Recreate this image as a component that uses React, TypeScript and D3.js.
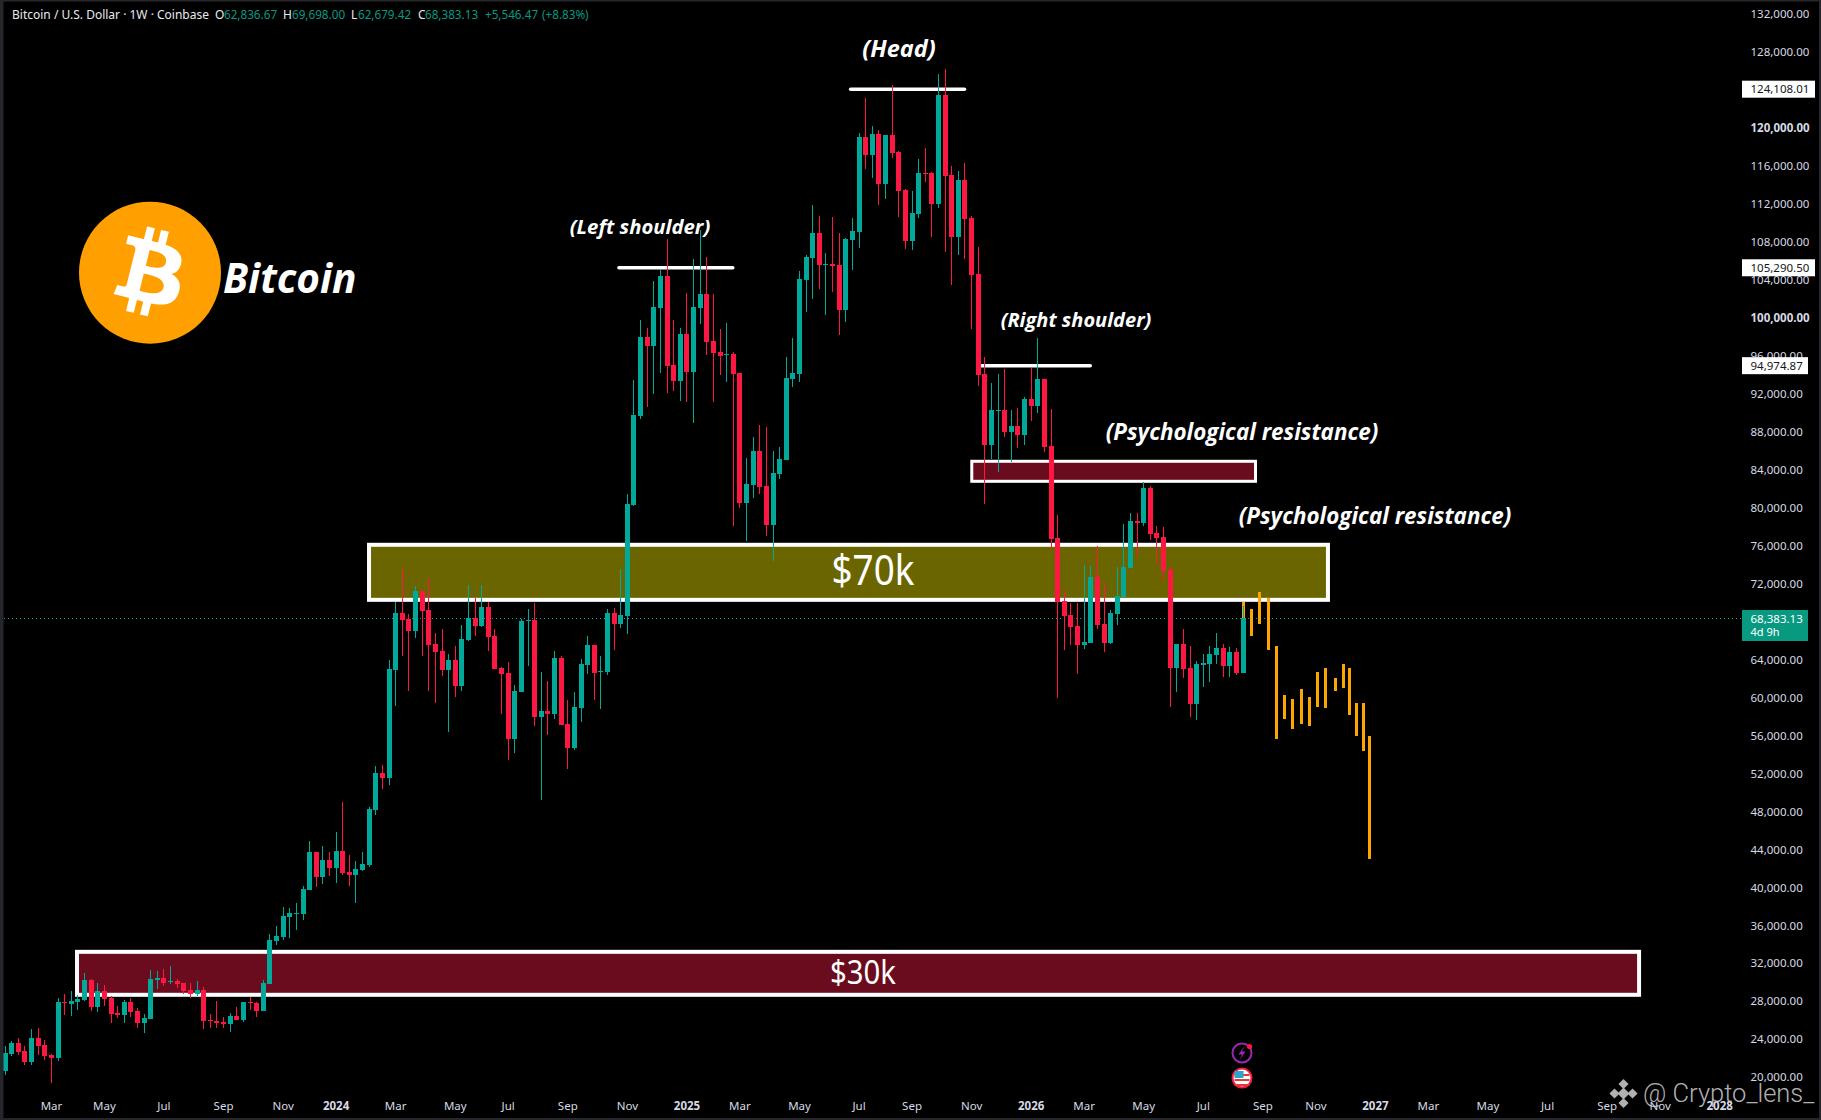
import * as d3 from 'd3';
import { useRef, useEffect } from 'react';

const WIDTH = 1821;
const HEIGHT = 1120;

// Weekly candles, prices in thousands of USD, one entry per week
const opens = [
  20.62, 22.41, 23.57, 22.73, 21.57, 24.1, 23.36, 22.3, 21.99, 27.89, 27.68, 27.89, 28.1, 30.21, 27.36, 29.05,
  28.31, 26.73, 26.52, 27.89, 26.94, 25.68, 26.1, 30.21, 30.42, 30.0, 30.1, 29.89, 29.15, 28.73, 29.15, 26.0,
  25.89, 25.78, 25.57, 26.41, 26.0, 27.89, 27.78, 26.94, 29.79, 34.32, 34.74, 36.85, 37.17, 37.17, 39.69, 43.7,
  41.06, 42.86, 42.01, 43.8, 41.59, 41.27, 41.8, 42.33, 48.12, 52.02, 51.49, 62.87, 68.88, 68.25, 66.98, 71.2,
  69.2, 65.61, 64.88, 62.87, 63.93, 61.19, 66.04, 68.35, 67.51, 69.51, 66.46, 63.08, 62.56, 55.6, 60.56, 68.04,
  68.14, 57.92, 58.55, 58.24, 64.14, 57.18, 54.65, 58.87, 63.4, 65.51, 62.66, 62.66, 68.88, 67.72, 68.56, 80.26,
  89.64, 97.96, 97.02, 101.02, 104.39, 95.01, 93.33, 98.28, 94.28, 101.02, 102.49, 97.54, 96.38, 96.07, 96.17, 94.17,
  80.47, 82.37, 85.95, 82.26, 78.15, 83.53, 85.0, 93.54, 94.07, 103.97, 106.29, 108.92, 105.55, 105.66, 105.55, 100.81,
  108.18, 109.08, 119.09, 117.19, 119.4, 114.13, 119.3, 117.51, 113.5, 108.13, 110.97, 115.29, 115.29, 112.03, 123.51, 115.08,
  108.55, 114.55, 110.5, 104.6, 94.06, 86.58, 90.16, 90.27, 87.95, 88.58, 87.63, 91.43, 90.69, 93.54, 86.47, 76.79,
  70.15, 68.67, 67.51, 65.51, 65.72, 72.68, 67.72, 65.72, 68.78, 70.57, 73.63, 78.58, 78.37, 82.06, 77.31, 76.89,
  73.41, 63.09, 65.62, 63.09, 59.29, 63.4, 63.51, 64.46, 65.2, 63.3, 64.77, 62.6,
];
const highs = [
  23.25, 23.78, 24.1, 23.25, 25.05, 25.15, 23.89, 22.41, 28.31, 28.73, 29.05, 28.63, 30.95, 30.31, 29.89, 29.68,
  28.52, 27.47, 28.1, 28.31, 27.26, 26.63, 31.26, 31.16, 31.37, 31.68, 30.31, 29.89, 29.89, 30.1, 29.47, 26.63,
  28.0, 26.31, 26.73, 27.36, 27.89, 28.42, 27.89, 30.21, 35.05, 35.9, 37.9, 37.8, 38.32, 40.12, 44.86, 43.7,
  44.33, 43.7, 45.81, 48.97, 43.38, 42.75, 43.7, 48.44, 52.76, 52.87, 63.93, 70.04, 73.69, 68.77, 71.73, 71.2,
  72.64, 66.77, 67.19, 64.56, 65.4, 67.62, 71.83, 70.46, 71.83, 70.04, 67.19, 63.19, 63.72, 61.29, 68.25, 69.3,
  69.93, 62.66, 61.72, 64.88, 64.35, 59.71, 60.56, 64.03, 66.46, 65.51, 64.35, 69.3, 69.41, 73.52, 81.42, 93.43,
  99.76, 98.91, 103.86, 105.02, 108.29, 99.76, 98.91, 102.6, 106.18, 109.24, 106.39, 102.49, 98.81, 99.44, 96.38, 94.17,
  85.21, 87.43, 88.69, 88.48, 85.95, 86.37, 95.86, 97.86, 104.92, 106.6, 111.87, 110.71, 106.82, 110.61, 108.92, 108.4,
  110.5, 119.51, 123.2, 120.25, 119.82, 119.3, 124.57, 117.61, 113.61, 113.4, 116.77, 117.93, 115.4, 125.72, 126.25, 116.03,
  115.5, 116.3, 110.7, 107.45, 95.85, 93.11, 94.06, 94.59, 90.27, 90.48, 91.64, 94.69, 97.86, 93.54, 90.37, 79.21,
  71.31, 69.94, 69.94, 73.94, 73.84, 75.94, 71.94, 69.2, 73.73, 78.26, 79.42, 79.42, 82.69, 82.27, 78.05, 77.95,
  73.84, 65.62, 67.2, 65.41, 63.82, 64.56, 65.41, 66.78, 65.62, 65.3, 65.2, 69.7,
];
const lows = [
  20.2, 22.2, 22.3, 21.25, 21.25, 22.3, 21.78, 19.35, 21.67, 26.52, 26.41, 27.05, 28.0, 26.94, 26.84, 27.47,
  25.68, 26.2, 25.68, 26.31, 25.15, 24.62, 26.1, 29.26, 29.58, 29.79, 29.36, 28.73, 28.31, 28.52, 25.05, 25.15,
  25.15, 25.15, 24.73, 26.0, 25.78, 27.05, 26.31, 26.94, 29.79, 33.9, 34.43, 34.64, 35.48, 36.53, 39.69, 40.01,
  40.33, 41.17, 40.43, 41.27, 40.12, 38.32, 41.7, 42.12, 47.6, 50.34, 50.76, 59.08, 64.35, 60.66, 66.25, 64.35,
  60.66, 59.4, 62.24, 56.34, 60.03, 60.66, 65.93, 66.46, 67.41, 64.88, 62.98, 58.24, 53.39, 54.13, 60.56, 63.3,
  56.97, 49.2, 56.02, 57.71, 57.08, 52.44, 54.44, 57.39, 62.45, 59.71, 58.76, 62.35, 64.98, 67.3, 66.67, 80.16,
  89.32, 90.59, 91.96, 94.17, 92.06, 92.27, 91.22, 91.11, 88.9, 99.33, 96.07, 91.11, 93.96, 93.22, 78.05, 79.95,
  76.47, 81.0, 81.42, 77.0, 74.36, 83.0, 85.0, 92.7, 93.22, 100.6, 101.97, 103.02, 100.28, 102.71, 98.17, 99.54,
  105.02, 107.39, 115.71, 114.77, 111.92, 112.55, 116.87, 110.66, 107.28, 107.18, 110.55, 114.34, 108.55, 111.6, 106.97, 103.44,
  106.65, 106.18, 98.8, 92.8, 80.37, 85.1, 83.74, 87.42, 84.79, 86.26, 86.58, 89.11, 89.95, 85.84, 75.63, 59.93,
  64.98, 65.51, 62.46, 65.09, 65.72, 67.2, 64.77, 65.62, 67.62, 70.57, 73.63, 74.79, 78.05, 76.58, 74.05, 72.26,
  58.98, 60.56, 62.03, 57.92, 57.61, 61.09, 61.61, 63.51, 62.14, 62.14, 62.35, 62.6,
];
const closes = [
  22.52, 23.57, 22.62, 21.57, 24.1, 23.25, 22.2, 21.99, 27.89, 27.78, 28.0, 28.2, 30.21, 27.36, 29.05, 28.2,
  26.63, 26.52, 27.89, 26.84, 25.68, 26.2, 30.31, 30.42, 29.89, 30.1, 29.79, 29.05, 28.73, 29.15, 25.89, 25.89,
  25.68, 25.57, 26.41, 26.0, 27.89, 27.78, 26.94, 29.89, 34.42, 34.85, 36.95, 37.27, 37.27, 39.8, 43.7, 41.06,
  42.86, 42.01, 43.8, 41.49, 41.27, 41.91, 42.43, 48.23, 52.02, 51.5, 62.98, 68.88, 68.14, 66.98, 71.2, 69.09,
  65.51, 64.77, 62.87, 63.93, 61.19, 66.14, 68.35, 67.51, 69.51, 66.35, 62.98, 62.45, 55.6, 60.66, 68.04, 68.14,
  57.92, 58.55, 58.24, 64.14, 57.08, 54.65, 58.98, 63.51, 65.51, 62.56, 62.77, 68.88, 67.72, 68.67, 80.37, 89.74,
  97.96, 97.02, 101.12, 104.39, 94.91, 93.33, 98.28, 94.28, 101.12, 102.49, 97.44, 96.28, 95.96, 96.17, 94.07, 80.47,
  82.47, 85.95, 82.16, 78.15, 83.63, 85.11, 93.64, 94.17, 104.08, 106.39, 108.92, 105.55, 105.66, 105.45, 100.81, 108.29,
  109.13, 119.09, 117.19, 119.4, 114.13, 119.3, 117.4, 113.4, 108.13, 111.08, 115.29, 115.19, 112.03, 123.51, 114.98, 108.55,
  114.55, 110.4, 104.5, 93.96, 86.58, 90.27, 90.27, 87.95, 88.58, 87.63, 91.43, 90.69, 93.54, 86.37, 76.68, 70.04,
  68.57, 67.41, 65.51, 65.83, 72.68, 67.62, 65.72, 68.88, 70.68, 73.73, 78.58, 78.37, 82.06, 77.21, 76.79, 73.31,
  63.09, 65.62, 62.98, 59.29, 63.51, 63.62, 64.56, 65.2, 63.3, 64.77, 62.56, 68.38,
];

// Orange projected bars (no wicks), own week spacing
const projWeeks = [187.1, 188.3, 189.5, 190.9, 192.1, 193.3, 194.5, 195.9, 197.1, 198.3, 199.5, 200.9, 202.1, 203.1, 204.1, 205.2, 206.1];
const projTops = [70.1, 69.36, 71.15, 70.52, 65.46, 60.3, 59.88, 60.93, 60.09, 62.72, 63.14, 62.09, 63.56, 63.14, 59.45, 59.45, 55.98];
const projBottoms = [68.3, 66.51, 67.78, 65.04, 55.66, 57.77, 56.71, 57.24, 57.03, 59.03, 58.93, 60.72, 61.03, 58.19, 55.98, 54.4, 43.02];

const priceTicks = d3.range(20, 133, 4);
const boldPrices = [100, 120];
const tickWeeks = [7, 15, 24, 33, 42, 50, 59, 68, 76, 85, 94, 103, 111, 120, 129, 137, 146, 155, 163, 172, 181, 190, 198, 207, 215, 224, 233, 242, 250, 259];
const tickLabels = ['Mar', 'May', 'Jul', 'Sep', 'Nov', '2024', 'Mar', 'May', 'Jul', 'Sep', 'Nov', '2025', 'Mar', 'May', 'Jul', 'Sep', 'Nov', '2026', 'Mar', 'May', 'Jul', 'Sep', 'Nov', '2027', 'Mar', 'May', 'Jul', 'Sep', 'Nov', '2028'];

// Zones: [from week, to week], [low price, high price]
const zone70Weeks = [55.05, 199.9];
const zone70Prices = [70.3, 76.1];
const zone30Weeks = [10.94, 246.9];
const zone30Prices = [28.68, 33.21];
const zone84Weeks = [146.1, 188.96];
const zone84Prices = [82.79, 84.9];

// Pattern levels
const levelPrices = [105.2905, 124.10801, 94.97487];
const levelFrom = [92.8, 127.8, 147.4];
const levelTo = [110.0, 145.0, 164.0];
const levelText = ['105,290.50', '124,108.01', '94,974.87'];
const levelBoxWidth = [73, 73, 66];

const lastPrice = 68.38313;

const notes = ['(Head)', '(Left shoulder)', '(Right shoulder)', '(Psychological resistance)', '(Psychological resistance)'];
const noteX = [899, 640, 1076, 1242, 1375];
const noteY = [48, 226, 319, 431, 515];
const noteSize = [23.5, 20.3, 20, 22.4, 22.4];

const headerLabels = ['Bitcoin / U.S. Dollar · 1W · Coinbase', 'O', 'H', 'L', 'C'];
const headerLabelX = [12, 215, 283, 351, 418];
const headerValues = ['62,836.67', '69,698.00', '62,679.42', '68,383.13', '+5,546.47', '(+8.83%)'];
const headerValueX = [224, 292, 358, 425, 485, 542];

const TEAL = '#00A99A';
const RED = '#FF1744';
const ORANGE = '#FFA500';
const AXIS_TEXT = '#D6DAE4';
const UI_FONT = 'Tahoma, "Noto Sans", "Liberation Sans", sans-serif';
const NOTE_FONT = '"Open Sans", "Noto Sans", sans-serif';

const BTC_PATH =
  'M2947.77 1754.38c40.72,-272.26 -166.56,-418.61 -450,-516.24l91.95 -368.8 -224.5 -55.94 -89.51 359.09c-59.02,-14.72 -119.63,-28.59 -179.87,-42.34l90.16 -361.46 -224.36 -55.94 -92 368.68c-48.84,-11.12 -96.81,-22.11 -143.35,-33.69l0.26 -1.16 -309.59 -77.31 -59.72 239.78c0,0 166.56,38.18 163.05,40.53 90.91,22.69 107.35,82.87 104.62,130.57l-104.74 420.15c6.26,1.59 14.38,3.89 23.34,7.49 -7.49,-1.86 -15.46,-3.89 -23.73,-5.87l-146.81 588.57c-11.11,27.62 -39.31,69.07 -102.87,53.33 2.25,3.26 -163.17,-40.72 -163.17,-40.72l-111.46 256.98 292.15 72.83c54.35,13.63 107.61,27.89 160.06,41.3l-92.9 373.03 224.24 55.94 92 -369.07c61.26,16.63 120.71,31.97 178.91,46.43l-91.69 367.33 224.51 55.94 92.89 -372.33c382.82,72.45 670.67,43.24 791.83,-303.02 97.63,-278.78 -4.86,-439.58 -206.26,-544.44 146.69,-33.83 257.18,-130.31 286.64,-329.61l-0.07 -0.05zm-512.93 719.26c-69.38,278.78 -538.76,128.08 -690.94,90.29l123.28 -494.2c152.17,37.99 640.17,113.17 567.66,403.91zm69.43 -723.3c-63.29,253.58 -453.96,124.75 -580.69,93.16l111.77 -448.21c126.73,31.59 534.85,90.55 468.92,355.05z';

export default function App() {
  const svgRef = useRef<SVGSVGElement | null>(null);

  useEffect(() => {
    document.body.style.margin = '0';
    document.body.style.background = '#000';

    const svg = d3.select(svgRef.current);
    svg.selectAll('*').remove();

    const x = d3.scaleLinear().domain([0, 259]).range([4.6, 4.6 + 6.62 * 259]);
    const y = d3.scaleLinear().domain([20, 132]).range([14.3 + 112 * 9.49, 14.3]);

    svg.append('rect').attr('width', WIDTH).attr('height', HEIGHT).attr('fill', '#000');

    /* -- Zonas ------------------------------------------------------------------------- */
    const addZone = (weeks: number[], prices: number[], fill: string, sw: number) => {
      svg
        .append('rect')
        .attr('x', x(weeks[0]))
        .attr('y', y(prices[1]))
        .attr('width', x(weeks[1]) - x(weeks[0]))
        .attr('height', y(prices[0]) - y(prices[1]))
        .attr('fill', fill)
        .attr('stroke', '#fff')
        .attr('stroke-width', sw);
    };
    addZone(zone70Weeks, zone70Prices, '#6B6500', 4);
    addZone(zone30Weeks, zone30Prices, '#6A0B1E', 4);
    addZone(zone84Weeks, zone84Prices, '#6A0B1E', 3);

    // Líneas del patrón
    levelPrices.forEach((p, i) => {
      svg
        .append('line')
        .attr('x1', x(levelFrom[i]))
        .attr('x2', x(levelTo[i]))
        .attr('y1', y(p))
        .attr('y2', y(p))
        .attr('stroke', '#fff')
        .attr('stroke-width', 3.5)
        .attr('stroke-linecap', 'round');
    });

    // Precio actual
    svg
      .append('line')
      .attr('x1', 4)
      .attr('x2', 1742)
      .attr('y1', Math.round(y(lastPrice)) + 0.5)
      .attr('y2', Math.round(y(lastPrice)) + 0.5)
      .attr('stroke', TEAL)
      .attr('stroke-dasharray', '1 3');

    /* -- Barras proyectadas ------------------------------------------------------------ */
    svg
      .append('g')
      .attr('shape-rendering', 'crispEdges')
      .selectAll('rect')
      .data(projWeeks)
      .join('rect')
      .attr('x', (d) => Math.round(x(d)) - 1)
      .attr('y', (_, i) => y(projTops[i]))
      .attr('width', 3)
      .attr('height', (_, i) => y(projBottoms[i]) - y(projTops[i]))
      .attr('fill', ORANGE);

    /* -- Velas ------------------------------------------------------------------------- */
    const candles = svg.append('g').attr('shape-rendering', 'crispEdges');
    opens.forEach((o, i) => {
      const c = closes[i];
      const color = c >= o ? TEAL : RED;
      const cx = Math.round(x(i));
      const top = Math.round(y(Math.max(o, c)));
      const bottom = Math.round(y(Math.min(o, c)));
      candles
        .append('rect')
        .attr('x', cx)
        .attr('y', Math.round(y(highs[i])))
        .attr('width', 1)
        .attr('height', Math.max(1, Math.round(y(lows[i])) - Math.round(y(highs[i]))))
        .attr('fill', color);
      candles
        .append('rect')
        .attr('x', cx - 2)
        .attr('y', top)
        .attr('width', 5)
        .attr('height', Math.max(1, bottom - top))
        .attr('fill', color);
    });

    /* -- Textos de zonas y notas ------------------------------------------------------- */
    svg
      .append('text')
      .attr('x', 873)
      .attr('y', 585)
      .attr('text-anchor', 'middle')
      .attr('font-family', '"Noto Sans", sans-serif')
      .attr('font-size', 41)
      .attr('textLength', 83)
      .attr('lengthAdjust', 'spacingAndGlyphs')
      .attr('fill', '#fff')
      .text('$70k');
    svg
      .append('text')
      .attr('x', 863)
      .attr('y', 984)
      .attr('text-anchor', 'middle')
      .attr('font-family', '"Noto Sans", sans-serif')
      .attr('font-size', 33)
      .attr('textLength', 66)
      .attr('lengthAdjust', 'spacingAndGlyphs')
      .attr('fill', '#fff')
      .text('$30k');

    notes.forEach((note, i) => {
      svg
        .append('text')
        .attr('x', noteX[i])
        .attr('y', noteY[i])
        .attr('text-anchor', 'middle')
        .attr('dominant-baseline', 'central')
        .attr('font-family', NOTE_FONT)
        .attr('font-size', noteSize[i])
        .attr('font-weight', 700)
        .attr('font-style', 'italic')
        .attr('fill', '#fff')
        .text(note);
    });

    /* -- Logo -------------------------------------------------------------------------- */
    svg.append('circle').attr('cx', 150).attr('cy', 272.7).attr('r', 71).attr('fill', '#FFA000');
    svg
      .append('path')
      .attr('d', BTC_PATH)
      .attr('fill', '#fff')
      .attr('transform', `translate(150,272.7) scale(${142 / 4091}) translate(-2045.6,-2045.9)`);
    svg
      .append('text')
      .attr('x', 223)
      .attr('y', 293)
      .attr('font-family', NOTE_FONT)
      .attr('font-size', 40.5)
      .attr('font-weight', 700)
      .attr('font-style', 'italic')
      .attr('fill', '#fff')
      .text('Bitcoin');

    /* -- Cabecera ---------------------------------------------------------------------- */
    headerLabels.forEach((t, i) => {
      svg
        .append('text')
        .attr('x', headerLabelX[i])
        .attr('y', 19)
        .attr('font-family', UI_FONT)
        .attr('font-size', 12)
        .attr('fill', '#E8EAF0')
        .text(t);
    });
    headerValues.forEach((t, i) => {
      svg
        .append('text')
        .attr('x', headerValueX[i])
        .attr('y', 19)
        .attr('font-family', UI_FONT)
        .attr('font-size', 11.7)
        .attr('fill', '#089981')
        .text(t);
    });

    /* -- Ejes -------------------------------------------------------------------------- */
    const yAxis = svg
      .append('g')
      .attr('transform', 'translate(1750.5,0)')
      .call(
        d3
          .axisRight(y)
          .tickValues(priceTicks)
          .tickSize(0)
          .tickPadding(0)
          .tickFormat((d) => d3.format(',.2f')(+d * 1000)),
      );
    yAxis.select('.domain').remove();
    yAxis
      .selectAll<SVGTextElement, number>('text')
      .attr('font-family', UI_FONT)
      .attr('font-size', 11.5)
      .attr('font-weight', (d) => (boldPrices.includes(d) ? 700 : 400))
      .attr('fill', AXIS_TEXT);

    const xAxis = svg
      .append('g')
      .attr('transform', 'translate(0,1101.5)')
      .call(
        d3
          .axisBottom(x)
          .tickValues(tickWeeks)
          .tickSize(0)
          .tickPadding(0)
          .tickFormat((_, i) => tickLabels[i]),
      );
    xAxis.select('.domain').remove();
    xAxis
      .selectAll<SVGTextElement, number>('text')
      .attr('font-family', UI_FONT)
      .attr('font-size', 11.5)
      .attr('font-weight', (_, i) => (/^20/.test(tickLabels[i]) ? 700 : 400))
      .attr('fill', AXIS_TEXT);

    // Etiquetas de precio
    levelPrices.forEach((p, i) => {
      svg
        .append('rect')
        .attr('x', 1742)
        .attr('y', y(p) - 8.5)
        .attr('width', levelBoxWidth[i])
        .attr('height', 17)
        .attr('fill', '#fff');
      svg
        .append('text')
        .attr('x', 1750.5)
        .attr('y', y(p) + 4)
        .attr('font-family', UI_FONT)
        .attr('font-size', 11.5)
        .attr('fill', '#131722')
        .text(levelText[i]);
    });

    svg.append('rect').attr('x', 1742).attr('y', 610).attr('width', 66).attr('height', 31).attr('fill', '#089981');
    svg
      .append('text')
      .attr('x', 1750.5)
      .attr('y', 623)
      .attr('font-family', UI_FONT)
      .attr('font-size', 11.5)
      .attr('fill', '#fff')
      .text('68,383.13');
    svg
      .append('text')
      .attr('x', 1750.5)
      .attr('y', 636)
      .attr('font-family', UI_FONT)
      .attr('font-size', 11)
      .attr('fill', '#fff')
      .text('4d 9h');

    /* -- Iconos de eventos ------------------------------------------------------------- */
    svg.append('circle').attr('cx', 1242).attr('cy', 1053).attr('r', 9.5).attr('fill', 'none').attr('stroke', '#9C27B0').attr('stroke-width', 2);
    svg
      .append('path')
      .attr('d', 'M1244.5 1046 L1238.5 1054.5 L1242 1054.5 L1239.5 1060 L1245.5 1051.5 L1242 1051.5 Z')
      .attr('fill', '#9C27B0');
    svg.append('circle').attr('cx', 1249.5).attr('cy', 1046.5).attr('r', 2.6).attr('fill', RED);

    svg.append('circle').attr('cx', 1242).attr('cy', 1078).attr('r', 9.5).attr('fill', '#fff').attr('stroke', RED).attr('stroke-width', 2);
    [1074, 1079, 1084].forEach((sy) => {
      svg.append('rect').attr('x', 1234.5).attr('y', sy).attr('width', 15).attr('height', 2).attr('fill', '#E53935');
    });
    svg.append('rect').attr('x', 1234.5).attr('y', 1071).attr('width', 9).attr('height', 7).attr('fill', '#26A6C9');

    /* -- Marca de agua ----------------------------------------------------------------- */
    const mark = svg.append('g').attr('fill', '#D0D0D0').attr('opacity', 0.85);
    const diamonds = [
      [1623.5, 1084, 3.6],
      [1614.5, 1093.5, 3.6],
      [1632.5, 1093.5, 3.6],
      [1623.5, 1103, 3.6],
      [1623.5, 1093.5, 4.2],
    ];
    diamonds.forEach(([cx, cy, r]) => {
      mark
        .append('rect')
        .attr('x', -r)
        .attr('y', -r)
        .attr('width', 2 * r)
        .attr('height', 2 * r)
        .attr('transform', `translate(${cx},${cy}) rotate(45)`);
    });
    mark
      .append('text')
      .attr('x', 1643)
      .attr('y', 1102)
      .attr('font-family', 'Roboto, sans-serif')
      .attr('font-weight', 300)
      .attr('font-size', 25.5)
      .text('@ Crypto_lens_');

    /* -- Marco ------------------------------------------------------------------------- */
    const frame = '#26262B';
    svg.append('rect').attr('x', 0).attr('y', 0).attr('width', 3.5).attr('height', HEIGHT).attr('fill', frame);
    svg.append('rect').attr('x', 0).attr('y', 0).attr('width', WIDTH).attr('height', 1.5).attr('fill', frame);
    svg.append('rect').attr('x', 0).attr('y', HEIGHT - 2).attr('width', WIDTH).attr('height', 2).attr('fill', frame);
    svg.append('rect').attr('x', WIDTH - 2).attr('y', 0).attr('width', 2).attr('height', HEIGHT).attr('fill', frame);
  }, []);

  return <svg ref={svgRef} width={WIDTH} height={HEIGHT} style={{ display: 'block' }} />;
}
